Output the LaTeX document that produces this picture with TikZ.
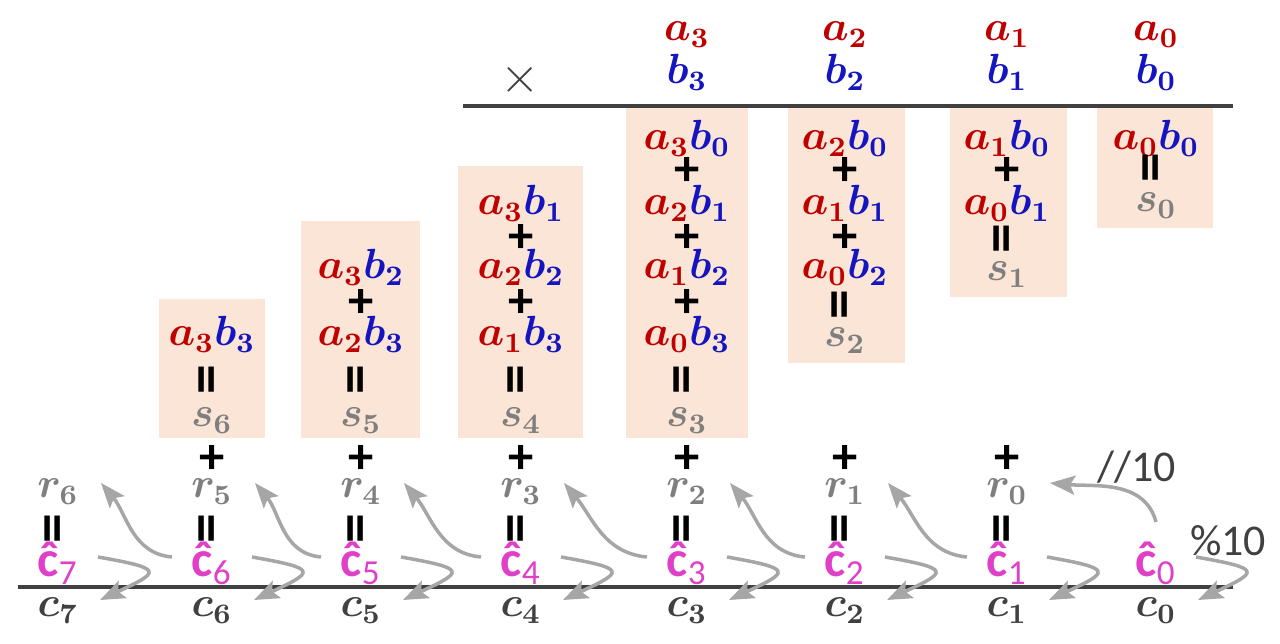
\documentclass[tikz,border=0pt]{standalone}
\usepackage{amsmath}
\usepackage{fontspec}
\usepackage{tikz}
\usetikzlibrary{positioning, arrows.meta}
\newfontfamily\calib{Carlito}
\definecolor{ared}{HTML}{C00000}
\definecolor{bblue}{HTML}{1414C0}
\definecolor{sgray}{HTML}{7F7F7F}
\definecolor{cdark}{HTML}{404040}
\definecolor{hatpink}{HTML}{E040C8}
\definecolor{boxpeach}{HTML}{FBE5D6}
\definecolor{arrowgray}{HTML}{A6A6A6}
\newcommand{\prodab}[2]{$\textcolor{ared}{a_{#1}}\textcolor{bblue}{b_{#2}}$}
\tikzset{
>={Stealth[length=2.5mm,width=1.9mm,inset=0.5mm]}, % arrow heads of the carries
term/.style={anchor=base, inner sep=0pt, font=\fontsize{12}{14}\selectfont\boldmath}, % a, b, s, r, c
sign/.style={inner sep=0pt, yshift=-0.3mm, font=\calib\bfseries\fontsize{14.4}{17}\selectfont}, % the + signs
equal/.style={inner sep=0pt, rotate=90, font=\calib\bfseries\fontsize{17}{20}\selectfont}, % the = signs, standing up
chat/.style={term, text=hatpink, font=\calib\bfseries\fontsize{14.4}{17}\selectfont},
lbl/.style={inner sep=0pt, text=cdark, font=\calib\fontsize{12.5}{15}\selectfont},
prodbox/.style={fill=boxpeach},
rule/.style={draw=cdark, line width=1.1pt},
carry/.style={->, color=arrowgray, line width=1pt},
}
\begin{document}
\begin{tikzpicture}[x=0.1mm, y=-0.1mm]
        \useasboundingbox (0,0) rectangle (1280,644);

        % boxes of the partial products
        \fill[prodbox] (1097,108) rectangle (1213,228);
        \fill[prodbox] (950,108) rectangle (1067,297);
        \fill[prodbox] (788,108) rectangle (905,363);
        \fill[prodbox] (626,108) rectangle (748,438);
        \fill[prodbox] (458,166) rectangle (583,438);
        \fill[prodbox] (301,221) rectangle (420,438);
        \fill[prodbox] (159,299) rectangle (265,438);

        \draw[rule] (463,106) -- (1233,106);
        \draw[rule] (18,587) -- (1233,587);

        % factors
        \node[term] (a3) at (687,41) {$\color{ared}a_3$};
        \node[term] (a2) at (845,41) {$\color{ared}a_2$};
        \node[term] (a1) at (1007,41) {$\color{ared}a_1$};
        \node[term] (a0) at (1156,41) {$\color{ared}a_0$};
        \node[term] (b3) at (687,84) {$\color{bblue}b_3$};
        \node[term] (b2) at (845,84) {$\color{bblue}b_2$};
        \node[term] (b1) at (1007,84) {$\color{bblue}b_1$};
        \node[term] (b0) at (1156,84) {$\color{bblue}b_0$};
        \node[inner sep=0pt, font=\fontsize{14.4}{17}\selectfont, text=cdark] (times) at (520,80) {$\times$};

        % column 0
        \node[term] (p00) at (1156,150) {\prodab{0}{0}};
        \node[equal] (e0) at (1156,168) {=};
        \node[term, text=sgray] (s0) at (1156,212) {$s_0$};
        % column 1
        \node[term] (p10) at (1007,150) {\prodab{1}{0}};
        \node[sign] (q1a) at (1007,168) {+};
        \node[term] (p01) at (1007,215) {\prodab{0}{1}};
        \node[equal] (e1) at (1007,239) {=};
        \node[term, text=sgray] (s1) at (1007,281) {$s_1$};
        % column 2
        \node[term] (p20) at (845,150) {\prodab{2}{0}};
        \node[sign] (q2a) at (845,168) {+};
        \node[term] (p11) at (845,215) {\prodab{1}{1}};
        \node[sign] (q2b) at (845,235) {+};
        \node[term] (p02) at (845,279) {\prodab{0}{2}};
        \node[equal] (e2) at (845,305) {=};
        \node[term, text=sgray] (s2) at (845,347) {$s_2$};
        % column 3
        \node[term] (p30) at (687,150) {\prodab{3}{0}};
        \node[sign] (q3a) at (687,168) {+};
        \node[term] (p21) at (687,215) {\prodab{2}{1}};
        \node[sign] (q3b) at (687,235) {+};
        \node[term] (p12) at (687,279) {\prodab{1}{2}};
        \node[sign] (q3c) at (687,300) {+};
        \node[term] (p03) at (687,346) {\prodab{0}{3}};
        \node[equal] (e3) at (687,380) {=};
        \node[term, text=sgray] (s3) at (687,427) {$s_3$};
        % column 4
        \node[term] (p31) at (521,215) {\prodab{3}{1}};
        \node[sign] (q4a) at (521,235) {+};
        \node[term] (p22) at (521,279) {\prodab{2}{2}};
        \node[sign] (q4b) at (521,300) {+};
        \node[term] (p13) at (521,346) {\prodab{1}{3}};
        \node[equal] (e4) at (521,380) {=};
        \node[term, text=sgray] (s4) at (521,427) {$s_4$};
        % column 5
        \node[term] (p32) at (361,279) {\prodab{3}{2}};
        \node[sign] (q5a) at (361,300) {+};
        \node[term] (p23) at (361,346) {\prodab{2}{3}};
        \node[equal] (e5) at (361,380) {=};
        \node[term, text=sgray] (s5) at (361,427) {$s_5$};
        % column 6
        \node[term] (p33) at (212,346) {\prodab{3}{3}};
        \node[equal] (e6) at (212,380) {=};
        \node[term, text=sgray] (s6) at (212,427) {$s_6$};

        % carries
        \node[sign] (pl6) at (212,456) {+};
        \node[sign] (pl5) at (361,456) {+};
        \node[sign] (pl4) at (521,456) {+};
        \node[sign] (pl3) at (687,456) {+};
        \node[sign] (pl2) at (845,456) {+};
        \node[sign] (pl1) at (1007,456) {+};
        \node[term, text=sgray] (r6) at (58,498) {$r_6$};
        \node[term, text=sgray] (r5) at (212,498) {$r_5$};
        \node[term, text=sgray] (r4) at (361,498) {$r_4$};
        \node[term, text=sgray] (r3) at (521,498) {$r_3$};
        \node[term, text=sgray] (r2) at (687,498) {$r_2$};
        \node[term, text=sgray] (r1) at (845,498) {$r_1$};
        \node[term, text=sgray] (r0) at (1007,498) {$r_0$};
        \node[equal] (f7) at (58,529) {=};
        \node[equal] (f6) at (212,529) {=};
        \node[equal] (f5) at (361,529) {=};
        \node[equal] (f4) at (521,529) {=};
        \node[equal] (f3) at (687,529) {=};
        \node[equal] (f2) at (845,529) {=};
        \node[equal] (f1) at (1007,529) {=};
        \node[chat] (ch7) at (58,577) {ĉ\textsubscript{\mdseries 7}};
        \node[chat] (ch6) at (212,577) {ĉ\textsubscript{\mdseries 6}};
        \node[chat] (ch5) at (361,577) {ĉ\textsubscript{\mdseries 5}};
        \node[chat] (ch4) at (521,577) {ĉ\textsubscript{\mdseries 4}};
        \node[chat] (ch3) at (687,577) {ĉ\textsubscript{\mdseries 3}};
        \node[chat] (ch2) at (845,577) {ĉ\textsubscript{\mdseries 2}};
        \node[chat] (ch1) at (1007,577) {ĉ\textsubscript{\mdseries 1}};
        \node[chat] (ch0) at (1156,577) {ĉ\textsubscript{\mdseries 0}};
        \node[term, text=cdark] (c7) at (58,617) {$c_7$};
        \node[term, text=cdark] (c6) at (212,617) {$c_6$};
        \node[term, text=cdark] (c5) at (361,617) {$c_5$};
        \node[term, text=cdark] (c4) at (521,617) {$c_4$};
        \node[term, text=cdark] (c3) at (687,617) {$c_3$};
        \node[term, text=cdark] (c2) at (845,617) {$c_2$};
        \node[term, text=cdark] (c1) at (1007,617) {$c_1$};
        \node[term, text=cdark] (c0) at (1156,617) {$c_0$};
        \node[lbl] (div) at (1137,467) {//10};
        \node[lbl] (mod) at (1228,541) {\%10};

        \path[carry] ([yshift=5.5mm]ch0.base) edge[out=105, in=-5] ([xshift=4.3mm,yshift=1.5mm]r0.base)
        ([xshift=-4mm,yshift=2mm]ch1.base) edge[out=175, in=-50] ([xshift=4.3mm,yshift=1.5mm]r1.base)
        ([xshift=-4mm,yshift=2mm]ch2.base) edge[out=175, in=-50] ([xshift=4.3mm,yshift=1.5mm]r2.base)
        ([xshift=-4mm,yshift=2mm]ch3.base) edge[out=175, in=-50] ([xshift=4.3mm,yshift=1.5mm]r3.base)
        ([xshift=-4mm,yshift=2mm]ch4.base) edge[out=175, in=-50] ([xshift=4.3mm,yshift=1.5mm]r4.base)
        ([xshift=-4mm,yshift=2mm]ch5.base) edge[out=175, in=-50] ([xshift=4.3mm,yshift=1.5mm]r5.base)
        ([xshift=-4mm,yshift=2mm]ch6.base) edge[out=175, in=-50] ([xshift=4.3mm,yshift=1.5mm]r6.base)
        ([xshift=4mm,yshift=2mm]ch7.base) edge[out=-10, in=25, looseness=4] ([xshift=4.2mm,yshift=1.7mm]c7.base)
        ([xshift=4mm,yshift=2mm]ch6.base) edge[out=-10, in=25, looseness=4] ([xshift=4.2mm,yshift=1.7mm]c6.base)
        ([xshift=4mm,yshift=2mm]ch5.base) edge[out=-10, in=25, looseness=4] ([xshift=4.2mm,yshift=1.7mm]c5.base)
        ([xshift=4mm,yshift=2mm]ch4.base) edge[out=-10, in=25, looseness=4] ([xshift=4.2mm,yshift=1.7mm]c4.base)
        ([xshift=4mm,yshift=2mm]ch3.base) edge[out=-10, in=25, looseness=4] ([xshift=4.2mm,yshift=1.7mm]c3.base)
        ([xshift=4mm,yshift=2mm]ch2.base) edge[out=-10, in=25, looseness=4] ([xshift=4.2mm,yshift=1.7mm]c2.base)
        ([xshift=4mm,yshift=2mm]ch1.base) edge[out=-10, in=25, looseness=4] ([xshift=4.2mm,yshift=1.7mm]c1.base)
        ([xshift=4mm,yshift=2mm]ch0.base) edge[out=-10, in=25, looseness=4] ([xshift=4.2mm,yshift=1.7mm]c0.base);
\end{tikzpicture}
\end{document}
